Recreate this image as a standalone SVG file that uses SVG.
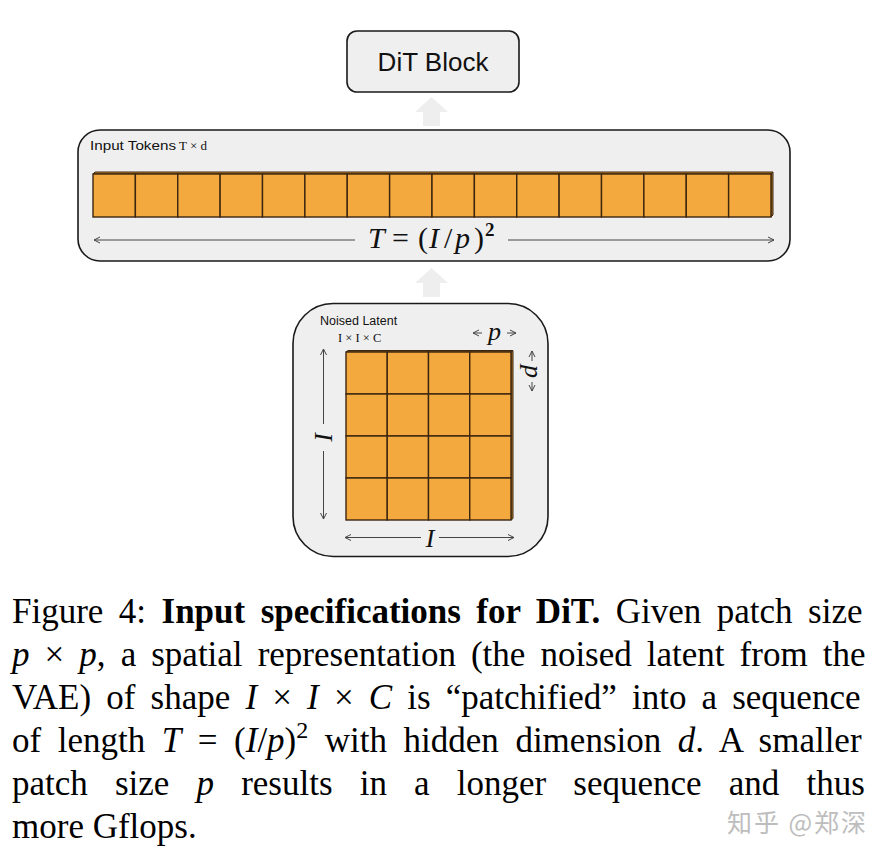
<svg xmlns="http://www.w3.org/2000/svg" width="889" height="859" viewBox="0 0 889 859">
<style>
.box{fill:#efefef;stroke:#1a1a1a;stroke-width:1.6}
.cell{fill:#f4a93e;stroke:#3b2610;stroke-width:1.4}
.top{fill:#c8882c;stroke:#3b2610;stroke-width:1}
.side{fill:#b97a25;stroke:#3b2610;stroke-width:1}
.dim{stroke:#444;stroke-width:1;fill:none}
.sans{font-family:"Liberation Sans",Arial,sans-serif;fill:#111}
.serif{font-family:"Liberation Serif","Times New Roman",serif;fill:#111}
.it{font-style:italic}
.cap{font-family:"Liberation Serif","Times New Roman",serif;font-size:35px;fill:#000}
.up{fill:#eeeeee}
</style>
<defs>
<marker id="ah" viewBox="0 0 8 8" refX="7" refY="4" markerWidth="8" markerHeight="8" markerUnits="userSpaceOnUse" orient="auto-start-reverse">
<path d="M1,1 L7,4 L1,7" fill="none" stroke="#444" stroke-width="1"/>
</marker>
</defs>

<g id="connectors">
<polygon class="up" points="415,112 431.5,97 448,112 440,112 440,126 423,126 423,112"/>
<polygon class="up" points="415,283 431.5,268 448,283 440,283 440,297 423,297 423,283"/>
</g>

<g id="dit-block">
<rect class="box" x="347" y="31" width="172" height="61" rx="10"/>
<text class="sans" x="433" y="71" font-size="26" text-anchor="middle">DiT Block</text>
</g>

<g id="input-tokens">
<rect class="box" x="78" y="130" width="712" height="131" rx="22"/>
<text x="90" y="150" font-size="13"><tspan class="sans" textLength="86" lengthAdjust="spacingAndGlyphs">Input Tokens</tspan><tspan class="serif"> T × d</tspan></text>
<polygon class="top" points="93,174 95,172 773,172 771,174"/>
<polygon class="side" points="771,174 773,172 773,215 771,217"/>
<g id="tokens">
<rect class="cell" x="93" y="174" width="42.375" height="43"/>
<rect class="cell" x="135.375" y="174" width="42.375" height="43"/>
<rect class="cell" x="177.75" y="174" width="42.375" height="43"/>
<rect class="cell" x="220.125" y="174" width="42.375" height="43"/>
<rect class="cell" x="262.5" y="174" width="42.375" height="43"/>
<rect class="cell" x="304.875" y="174" width="42.375" height="43"/>
<rect class="cell" x="347.25" y="174" width="42.375" height="43"/>
<rect class="cell" x="389.625" y="174" width="42.375" height="43"/>
<rect class="cell" x="432" y="174" width="42.375" height="43"/>
<rect class="cell" x="474.375" y="174" width="42.375" height="43"/>
<rect class="cell" x="516.75" y="174" width="42.375" height="43"/>
<rect class="cell" x="559.125" y="174" width="42.375" height="43"/>
<rect class="cell" x="601.5" y="174" width="42.375" height="43"/>
<rect class="cell" x="643.875" y="174" width="42.375" height="43"/>
<rect class="cell" x="686.25" y="174" width="42.375" height="43"/>
<rect class="cell" x="728.625" y="174" width="42.375" height="43"/>
</g>
<line class="dim" x1="94" y1="240" x2="355" y2="240" marker-start="url(#ah)"/>
<line class="dim" x1="508" y1="240" x2="774" y2="240" marker-end="url(#ah)"/>
<text class="serif" y="248" font-size="30"><tspan class="it" x="368">T</tspan><tspan x="392">=</tspan><tspan x="418">(</tspan><tspan class="it" x="429">I</tspan><tspan x="444">/</tspan><tspan class="it" x="455">p</tspan><tspan x="474">)</tspan><tspan x="485" dy="-12" font-size="19" font-weight="bold">2</tspan></text>
</g>

<g id="noised-latent">
<rect class="box" x="293" y="303.5" width="255" height="253" rx="40"/>
<text class="sans" x="320" y="325" font-size="12.5">Noised Latent</text>
<text class="serif" x="338" y="342" font-size="12.5">I × I × C</text>
<polygon class="top" points="346,352 348,350.5 513,350.5 511,352"/>
<polygon class="side" points="511,352 513,350.5 513,518.5 511,520"/>
<g id="grid">
<rect class="cell" x="346" y="352" width="41.25" height="42"/>
<rect class="cell" x="387.25" y="352" width="41.25" height="42"/>
<rect class="cell" x="428.5" y="352" width="41.25" height="42"/>
<rect class="cell" x="469.75" y="352" width="41.25" height="42"/>
<rect class="cell" x="346" y="394" width="41.25" height="42"/>
<rect class="cell" x="387.25" y="394" width="41.25" height="42"/>
<rect class="cell" x="428.5" y="394" width="41.25" height="42"/>
<rect class="cell" x="469.75" y="394" width="41.25" height="42"/>
<rect class="cell" x="346" y="436" width="41.25" height="42"/>
<rect class="cell" x="387.25" y="436" width="41.25" height="42"/>
<rect class="cell" x="428.5" y="436" width="41.25" height="42"/>
<rect class="cell" x="469.75" y="436" width="41.25" height="42"/>
<rect class="cell" x="346" y="478" width="41.25" height="42"/>
<rect class="cell" x="387.25" y="478" width="41.25" height="42"/>
<rect class="cell" x="428.5" y="478" width="41.25" height="42"/>
<rect class="cell" x="469.75" y="478" width="41.25" height="42"/>
</g>
<line class="dim" x1="482" y1="333" x2="473" y2="333" marker-end="url(#ah)"/>
<line class="dim" x1="507" y1="333" x2="516" y2="333" marker-end="url(#ah)"/>
<text class="serif it" x="494.5" y="340" font-size="26" text-anchor="middle">p</text>
<line class="dim" x1="532" y1="361" x2="532" y2="351" marker-end="url(#ah)"/>
<line class="dim" x1="532" y1="382" x2="532" y2="391" marker-end="url(#ah)"/>
<text class="serif it" x="0" y="0" font-size="26" text-anchor="middle" transform="translate(525,371.5) rotate(90)">p</text>
<line class="dim" x1="323.5" y1="424" x2="323.5" y2="349" marker-end="url(#ah)"/>
<line class="dim" x1="323.5" y1="451" x2="323.5" y2="519" marker-end="url(#ah)"/>
<text class="serif it" x="0" y="0" font-size="26" text-anchor="middle" transform="translate(332,437.5) rotate(-90)">I</text>
<line class="dim" x1="421" y1="537.5" x2="345" y2="537.5" marker-end="url(#ah)"/>
<line class="dim" x1="439" y1="537.5" x2="514" y2="537.5" marker-end="url(#ah)"/>
<text class="serif it" x="430" y="546.5" font-size="26" text-anchor="middle">I</text>
</g>

<g id="caption">
<text class="cap" x="12" y="623" word-spacing="6.7">Figure 4: <tspan font-weight="bold">Input specifications for DiT.</tspan> Given patch size</text>
<text class="cap" x="12" y="666" word-spacing="6.3"><tspan class="it">p</tspan> × <tspan class="it">p</tspan>, a spatial representation (the noised latent from the</text>
<text class="cap" x="12" y="709" word-spacing="6.4">VAE) of shape <tspan class="it">I</tspan> × <tspan class="it">I</tspan> × <tspan class="it">C</tspan> is “patchified” into a sequence</text>
<text class="cap" x="12" y="752" word-spacing="7.8">of length <tspan class="it">T</tspan> = (<tspan class="it">I</tspan>/<tspan class="it">p</tspan>)<tspan dy="-14" font-size="24">2</tspan><tspan dy="14"> with hidden dimension </tspan><tspan class="it">d</tspan>. A smaller</text>
<text class="cap" x="12" y="795" word-spacing="18.4">patch size <tspan class="it">p</tspan> results in a longer sequence and thus</text>
<text class="cap" x="12" y="838">more Gflops.</text>
<text x="727" y="832" font-size="25" fill="#bdbdbd" font-family="'Noto Sans CJK SC','Noto Sans',sans-serif" textLength="139">知乎 @郑深</text>
</g>
</svg>
